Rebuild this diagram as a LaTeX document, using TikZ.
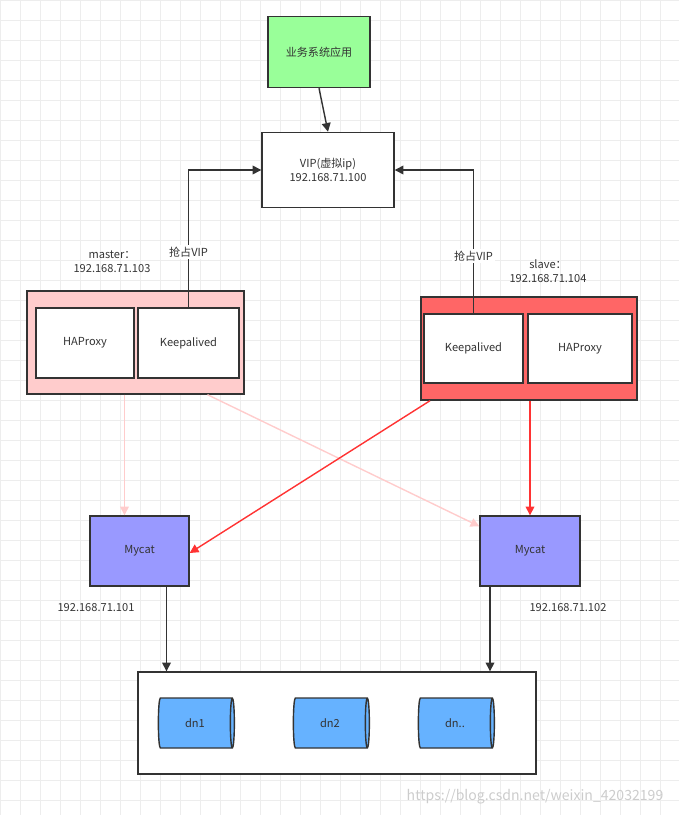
\documentclass[tikz,border=0pt]{standalone}
\usepackage{fontspec}
\setmainfont{Noto Sans CJK SC}
\usetikzlibrary{shapes.geometric,arrows.meta}
\definecolor{gridc}{HTML}{EDEDED}
\definecolor{greenbox}{HTML}{99FF99}
\definecolor{masterbg}{HTML}{FFCCCC}
\definecolor{slavebg}{HTML}{FF6666}
\definecolor{mycatbg}{HTML}{9999FF}
\definecolor{dnbg}{HTML}{66B2FF}
\definecolor{redline}{HTML}{FF3333}
\definecolor{dark}{HTML}{333333}
\begin{document}
\begin{tikzpicture}[x=0.02cm,y=-0.02cm,
    every node/.style={font=\fontsize{6.3}{8}\selectfont, text=dark},
    box/.style={draw=dark, thick, inner sep=0pt, align=center},
    arr/.style={-{Triangle[length=5pt,width=5pt]}, thick, draw=dark},
    pinkarr/.style={-{Triangle[length=5pt,width=5pt]}, thick, draw=masterbg},
    redarr/.style={-{Triangle[length=5pt,width=5pt]}, thick, draw=redline},
    db/.style={cylinder, draw=dark, thick, fill=dnbg, minimum width=50*0.02cm, minimum height=76*0.02cm, aspect=0.45, shape border rotate=0, inner sep=0pt},
    lbl/.style={fill=white, inner sep=1pt}]
  \useasboundingbox (0,0) rectangle (679,815);
  % background grid
  \foreach \x in {0,20,...,679} \draw[gridc, line width=0.3pt] (\x,0) -- (\x,815);
  \foreach \y in {0,20,...,815} \draw[gridc, line width=0.3pt] (0,\y) -- (679,\y);

  % top boxes
  \node[box, fill=greenbox, minimum width=102*0.02cm, minimum height=71*0.02cm] (app) at (319,52) {业务系统应用};
  \node[box, fill=white, minimum width=132*0.02cm, minimum height=75*0.02cm] (vip) at (328,170) {VIP(虚拟ip)\\192.168.71.100};

  % master
  \node[box, fill=masterbg, minimum width=217*0.02cm, minimum height=103*0.02cm] (master) at (135.5,342.5) {};
  \node[box, fill=white, minimum width=98*0.02cm, minimum height=70*0.02cm] (mha) at (85,343) {HAProxy};
  \node[box, fill=white, minimum width=101*0.02cm, minimum height=70*0.02cm] (mka) at (188.5,343) {Keepalived};
  \node[align=center] (mlbl) at (112,262) {master：\\192.168.71.103};

  % slave
  \node[box, fill=slavebg, minimum width=216*0.02cm, minimum height=103*0.02cm] (slave) at (529,348.5) {};
  \node[box, fill=white, minimum width=99*0.02cm, minimum height=69*0.02cm] (ska) at (473.5,348.5) {Keepalived};
  \node[box, fill=white, minimum width=104*0.02cm, minimum height=69*0.02cm] (sha) at (580,348.5) {HAProxy};
  \node[align=center] (slbl) at (548,271) {slave：\\192.168.71.104};

  % mycat
  \node[box, fill=mycatbg, minimum width=99*0.02cm, minimum height=70*0.02cm] (mc1) at (139.5,551) {Mycat};
  \node[box, fill=mycatbg, minimum width=100*0.02cm, minimum height=70*0.02cm] (mc2) at (530,551) {Mycat};
  \node (ip1) at (96,608) {192.168.71.101};
  \node (ip2) at (568,608) {192.168.71.102};

  % data nodes
  \node[box, fill=white, minimum width=398*0.02cm, minimum height=102*0.02cm] (dn) at (337,723) {};
  \node[db] (dn1) at (195,723) {dn1};
  \node[db] (dn2) at (330,723) {dn2};
  \node[db] (dn3) at (455,723) {dn..};

  % connectors
  \draw[arr] (app.south) -- (vip.north);
  \coordinate (mk) at (mka.north);
  \draw[arr] (mk) |- (vip.west) node[lbl, pos=0.2] {抢占VIP};
  \coordinate (sk) at (ska.north);
  \draw[arr] (sk) |- (vip.east) node[lbl, pos=0.2] {抢占VIP};

  \draw[pinkarr] (master.south -| mc1.north) ++(-15,0) coordinate (p1) -- (p1 |- mc1.north);
  \coordinate (p2) at ([xshift=72*0.02cm]master.south);
  \draw[pinkarr] (p2) -- ([yshift=-11*0.02cm]mc2.north west);
  \coordinate (r1) at ([xshift=-99*0.02cm]slave.south);
  \draw[redarr] (r1) -- ([yshift=-2*0.02cm]mc1.east);
  \draw[redarr] (mc2.north |- slave.south) -- (mc2.north);

  \draw[arr] ([xshift=27*0.02cm]mc1.south) -- ([xshift=27*0.02cm]mc1.south |- dn.north);
  \draw[arr] ([xshift=-40*0.02cm]mc2.south) -- ([xshift=-40*0.02cm]mc2.south |- dn.north);

  \node[text=gray!40, font=\fontsize{8}{10}\selectfont] (wm) at (535,797) {https://blog.csdn.net/weixin\_42032199};
\end{tikzpicture}
\end{document}
